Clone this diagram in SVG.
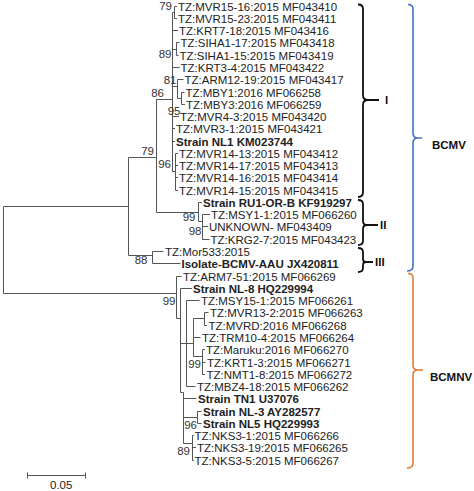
<svg xmlns="http://www.w3.org/2000/svg" width="474" height="491" viewBox="0 0 474 491">
<style>
.t{font-family:"Liberation Sans",Arial,sans-serif;font-size:11.5px;fill:#222}
.b{font-weight:bold}
.bs{font-family:"Liberation Sans",Arial,sans-serif;font-size:11.5px;fill:#333;text-anchor:end}
.tr{fill:none;stroke:#555;stroke-width:1}
.br{fill:none;stroke:#111;stroke-width:1.8}
.lab{font-family:"Liberation Sans",Arial,sans-serif;font-size:11.5px;font-weight:bold;fill:#111}
</style>
<rect width="474" height="491" fill="#fff"/>
<g id="connectors" class="tr">
<path d="M3.5,206.5 H128.5 M3.5,206.5 V293.5 H176.5"/>
<path d="M128.5,157.5 V255.5 M128.5,157.5 H156.5 M128.5,255.5 H152.5"/>
<path d="M156.5,99.5 V212.5 M156.5,99.5 H172.5 M156.5,212.5 H198.5"/>
<path d="M172.5,12.5 V171.5"/>
<path d="M172.5,12.5 H174.5 M174.5,6.5 V18.5 M174.5,6.5 H177 M174.5,18.5 H177"/>
<path d="M172.5,30.5 H178"/>
<path d="M172.5,49.5 H176.5 M176.5,42.5 V55.5 M176.5,42.5 H179.5 M176.5,55.5 H178.5"/>
<path d="M172.5,67.5 H179.5"/>
<path d="M172.5,86.5 H177.5 M177.5,79.5 V98.5 M177.5,79.5 H183.5 M177.5,98.5 H181.5 M181.5,92.5 V104.5 M181.5,92.5 H184.5 M181.5,104.5 H185"/>
<path d="M172.5,116.5 H179 M172.5,128.5 H175 M172.5,141.5 H175"/>
<path d="M172.5,171.5 H175.5 M175.5,153.5 V190.5 M175.5,153.5 H178 M175.5,165.5 H178 M175.5,177.5 H178 M175.5,190.5 H178"/>
<path d="M198.5,202.5 V221.5 M198.5,202.5 H202 M198.5,221.5 H202.5 M202.5,214.5 V239.5 M202.5,214.5 H210 M202.5,226.5 H208 M202.5,239.5 H209.5"/>
<path d="M152.5,251.5 V263.5 M152.5,251.5 H163.5 M152.5,263.5 H180.5"/>
<path d="M176.5,276.5 V318.5 M176.5,276.5 H181.5 M176.5,318.5 H180.5"/>
<path d="M180.5,288.5 V392.5 M180.5,288.5 H192 M180.5,343.5 H186.5 M180.5,392.5 H183.5"/>
<path d="M186.5,300.5 V386.5 M186.5,300.5 H199.5 M186.5,343.5 H193.5 M186.5,386.5 H195.5"/>
<path d="M193.5,318.5 V356.5 M193.5,318.5 H204.5 M193.5,337.5 H200.5 M193.5,356.5 H202.5"/>
<path d="M204.5,312.5 V325.5 M204.5,312.5 H208.5 M204.5,325.5 H207"/>
<path d="M202.5,349.5 V374.5 M202.5,349.5 H205 M202.5,362.5 H205.5 M202.5,374.5 H205"/>
<path d="M183.5,392.5 V443.5 M183.5,398.5 H196.5 M183.5,417.5 H197.5 M183.5,443.5 H192.5"/>
<path d="M197.5,411.5 V423.5 M197.5,411.5 H201.5 M197.5,423.5 H201.5"/>
<path d="M192.5,435.5 V460.5 M192.5,435.5 H194 M192.5,447.5 H196 M192.5,460.5 H194"/>
</g>
<g id="bootstrap">
<text class="bs" x="172" y="10">79</text>
<text class="bs" x="171.5" y="57.5">89</text>
<text class="bs" x="176.5" y="84">81</text>
<text class="bs" x="164" y="97">86</text>
<text class="bs" x="180.5" y="114.5">95</text>
<text class="bs" x="154" y="155">79</text>
<text class="bs" x="171" y="167.5">96</text>
<text class="bs" x="195.5" y="220.5">99</text>
<text class="bs" x="201.5" y="234.5">98</text>
<text class="bs" x="147.5" y="264">88</text>
<text class="bs" x="175.5" y="305">99</text>
<text class="bs" x="201" y="368">99</text>
<text class="bs" x="197" y="428.5">96</text>
<text class="bs" x="190" y="455">89</text>
</g>
<g id="leaves">
<g id="n1"><text class="t" x="178" y="10.5">TZ:MVR15-16:2015 MF043410</text></g>
<g id="n2"><text class="t" x="178" y="22.5">TZ:MVR15-23:2015 MF043411</text></g>
<g id="n3"><text class="t" x="179" y="34.5">TZ:KRT7-18:2015 MF043416</text></g>
<g id="n4"><text class="t" x="180.5" y="46.5">TZ:SIHA1-17:2015 MF043418</text></g>
<g id="n5"><text class="t" x="179.5" y="59.5">TZ:SIHA1-15:2015 MF043419</text></g>
<g id="n6"><text class="t" x="180.5" y="71.5">TZ:KRT3-4:2015 MF043422</text></g>
<g id="n7"><text class="t" x="184.5" y="83.5">TZ:ARM12-19:2015 MF043417</text></g>
<g id="n8"><text class="t" x="185.5" y="96.5">TZ:MBY1:2016 MF066258</text></g>
<g id="n9"><text class="t" x="186" y="108.5">TZ:MBY3:2016 MF066259</text></g>
<g id="n10"><text class="t" x="180" y="120.5">TZ:MVR4-3:2015 MF043420</text></g>
<g id="n11"><text class="t" x="176" y="132.5">TZ:MVR3-1:2015 MF043421</text></g>
<g id="n12"><text class="t b" x="176" y="145.5">Strain NL1 KM023744</text></g>
<g id="n13"><text class="t" x="179" y="157.5">TZ:MVR14-13:2015 MF043412</text></g>
<g id="n14"><text class="t" x="179" y="169.5">TZ:MVR14-17:2015 MF043413</text></g>
<g id="n15"><text class="t" x="179" y="181.5">TZ:MVR14-16:2015 MF043414</text></g>
<g id="n16"><text class="t" x="179" y="194.5">TZ:MVR14-15:2015 MF043415</text></g>
<g id="n17"><text class="t b" x="203" y="206.5">Strain RU1-OR-B KF919297</text></g>
<g id="n18"><text class="t" x="211" y="218.5">TZ:MSY1-1:2015 MF066260</text></g>
<g id="n19"><text class="t" x="209" y="230.5">UNKNOWN- MF043409</text></g>
<g id="n20"><text class="t" x="210.5" y="243.5">TZ:KRG2-7:2015 MF043423</text></g>
<g id="n21"><text class="t" x="165" y="255.5">TZ:Mor533:2015</text></g>
<g id="n22"><text class="t b" x="181.5" y="267.5">Isolate-BCMV-AAU JX420811</text></g>
<g id="n23"><text class="t" x="183" y="280.5">TZ:ARM7-51:2015 MF066269</text></g>
<g id="n24"><text class="t b" x="193" y="292.5">Strain NL-8 HQ229994</text></g>
<g id="n25"><text class="t" x="201" y="304.5">TZ:MSY15-1:2015 MF066261</text></g>
<g id="n26"><text class="t" x="210" y="316.5">TZ:MVR13-2:2015 MF066263</text></g>
<g id="n27"><text class="t" x="208.5" y="329.5">TZ:MVRD:2016 MF066268</text></g>
<g id="n28"><text class="t" x="202" y="341.5">TZ:TRM10-4:2015 MF066264</text></g>
<g id="n29"><text class="t" x="206" y="353.5">TZ:Maruku:2016 MF066270</text></g>
<g id="n30"><text class="t" x="207" y="366.5">TZ:KRT1-3:2015 MF066271</text></g>
<g id="n31"><text class="t" x="206.5" y="378.5">TZ:NMT1-8:2015 MF066272</text></g>
<g id="n32"><text class="t" x="197" y="390.5">TZ:MBZ4-18:2015 MF066262</text></g>
<g id="n33"><text class="t b" x="198" y="402.5">Strain TN1 U37076</text></g>
<g id="n34"><text class="t b" x="203" y="415.5">Strain NL-3 AY282577</text></g>
<g id="n35"><text class="t b" x="203" y="427.5">Strain NL5 HQ229993</text></g>
<g id="n36"><text class="t" x="194.5" y="439.5">TZ:NKS3-1:2015 MF066266</text></g>
<g id="n37"><text class="t" x="197" y="451.5">TZ:NKS3-19:2015 MF066265</text></g>
<g id="n38"><text class="t" x="194.5" y="464.5">TZ:NKS3-5:2015 MF066267</text></g>
</g>
<g id="group-I">
<path class="br" d="M358,4.5 Q363,4.5 363,9 V95 Q363,100 368,100 H379 M368,100 Q363,100 363,105 V192 Q363,197 358,197"/>
<text class="lab" x="385" y="104">I</text>
</g>
<g id="group-II">
<path class="br" d="M358,200 Q363,200 363,204 V221 Q363,225 367,225 H378 M367,225 Q363,225 363,229 V241 Q363,245 358,245"/>
<text class="lab" x="380" y="229">II</text>
</g>
<g id="group-III">
<path class="br" d="M358,248 Q363,248 363,252 V259 Q363,262 366,262 H373 M366,262 Q363,262 363,265 V268 Q363,272 358,272"/>
<text class="lab" x="375" y="266">III</text>
</g>
<g id="BCMV">
<path fill="none" stroke="#4472C4" stroke-width="1.6" d="M408,4.5 Q413,4.5 413,9 V133 Q413,138 418,138 H422 M418,138 Q413,138 413,143 V266 Q413,271 407,271"/>
<text class="lab" x="432" y="149">BCMV</text>
</g>
<g id="BCMNV">
<path fill="none" stroke="#E07B39" stroke-width="1.6" d="M408,273.5 Q413,273.5 413,278 V365 Q413,370 418,370 H423 M418,370 Q413,370 413,375 V463 Q413,468 407,468"/>
<text class="lab" x="430" y="381">BCMNV</text>
</g>
<g id="scale">
<path class="tr" d="M27.5,475.5 H85.5 M27.5,472.5 V478.5 M85.5,472.5 V478.5"/>
<text class="t" x="50" y="489">0.05</text>
</g>
</svg>
